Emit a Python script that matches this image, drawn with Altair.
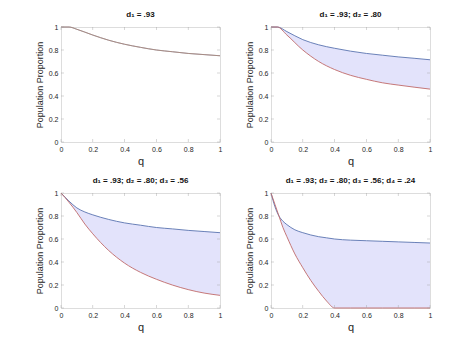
import altair as alt
import pandas as pd

# ---- data ----
TICKS = [0, 0.2, 0.4, 0.6, 0.8, 1]

TITLES = [
    "d₁ = .93",
    "d₁ = .93; d₂ = .80",
    "d₁ = .93; d₂ = .80; d₃ = .56",
    "d₁ = .93; d₂ = .80; d₃ = .56; d₄ = .24",
]

q1 = [0, 0.05, 0.1, 0.2, 0.3, 0.4, 0.5, 0.6, 0.7, 0.8, 0.9, 1.0]
upper1 = [1.0, 1.0, 0.98, 0.93, 0.885, 0.85, 0.823, 0.80, 0.785, 0.77, 0.76, 0.75]
lower1 = [1.0, 1.0, 0.98, 0.93, 0.885, 0.85, 0.823, 0.80, 0.785, 0.77, 0.76, 0.75]

q2 = [0, 0.04, 0.1, 0.2, 0.3, 0.4, 0.5, 0.6, 0.7, 0.8, 0.9, 1.0]
upper2 = [1.0, 1.0, 0.96, 0.89, 0.845, 0.815, 0.79, 0.77, 0.755, 0.74, 0.728, 0.715]
lower2 = [1.0, 1.0, 0.93, 0.80, 0.70, 0.63, 0.58, 0.545, 0.515, 0.495, 0.477, 0.46]

q3 = [0, 0.05, 0.1, 0.15, 0.2, 0.3, 0.4, 0.5, 0.6, 0.7, 0.8, 0.9, 1.0]
upper3 = [1.0, 0.93, 0.87, 0.835, 0.81, 0.77, 0.74, 0.72, 0.70, 0.688, 0.675, 0.665, 0.655]
lower3 = [1.0, 0.92, 0.83, 0.73, 0.645, 0.50, 0.39, 0.31, 0.25, 0.20, 0.16, 0.13, 0.11]

q4 = [0, 0.025, 0.05, 0.075, 0.1, 0.15, 0.2, 0.25, 0.3, 0.35, 0.4, 0.5, 0.6, 0.7, 0.8, 0.9, 1.0]
upper4 = [1.0, 0.88, 0.80, 0.755, 0.725, 0.68, 0.655, 0.635, 0.62, 0.61, 0.60, 0.59, 0.585, 0.58, 0.575, 0.57, 0.565]
lower4 = [1.0, 0.90, 0.80, 0.70, 0.62, 0.47, 0.35, 0.24, 0.145, 0.06, 0.0, 0.0, 0.0, 0.0, 0.0, 0.0, 0.0]

PANELS = [(q1, upper1, lower1), (q2, upper2, lower2), (q3, upper3, lower3), (q4, upper4, lower4)]

W, H = 159, 115
FONT = "Liberation Sans"
FRAME = "#a0a0a0"
TXT = "#262626"
XT = "q"
YT = "Population Proportion"

ticks_df = pd.DataFrame({"t": TICKS})


def panel(i):
    q, up, lo = PANELS[i]
    df = pd.DataFrame({"q": q, "upper": up, "lower": lo})
    xs = alt.Scale(domain=[0, 1], nice=False, zero=False)
    ys = alt.Scale(domain=[0, 1], nice=False, zero=False)
    common = dict(values=TICKS, format="~g", titleFontWeight="normal", titleColor=TXT,
                  labelFontSize=7, labelColor=TXT, labelPadding=3, labelOverlap=False,
                  labelFlush=False, domain=False, ticks=False, grid=False,
                  labelFont=FONT, titleFont=FONT)
    xax = alt.Axis(titleFontSize=11, titlePadding=3, **common)
    yax = alt.Axis(titleFontSize=9, titlePadding=4, **common)

    def X(f):
        return alt.X(f, scale=xs, axis=xax, title=XT)

    def Y(f):
        return alt.Y(f, scale=ys, axis=yax, title=YT)

    base = alt.Chart(df)
    area = base.mark_area(color="#e3e3fb", opacity=1, interpolate="monotone").encode(
        x=X("q:Q"), y=Y("upper:Q"), y2="lower:Q")
    if i == 0:
        up_color, lo_color, lo_op = "#8a7f9a", "#b08a70", 0.7
    else:
        up_color, lo_color, lo_op = "#5a74b0", "#c06a6a", 1.0
    l_up = base.mark_line(color=up_color, strokeWidth=0.9, interpolate="monotone").encode(
        x=X("q:Q"), y=Y("upper:Q"))
    l_lo = base.mark_line(color=lo_color, strokeWidth=0.9, opacity=lo_op, interpolate="monotone").encode(
        x=X("q:Q"), y=Y("lower:Q"))
    tb = alt.Chart(ticks_df)
    tk = dict(size=3, thickness=0.6, color=FRAME)
    t_bot = tb.mark_tick(orient="vertical", yOffset=-1.5, **tk).encode(x=X("t:Q"), y=alt.value(H))
    t_top = tb.mark_tick(orient="vertical", yOffset=1.5, **tk).encode(x=X("t:Q"), y=alt.value(0))
    t_left = tb.mark_tick(orient="horizontal", xOffset=1.5, **tk).encode(y=Y("t:Q"), x=alt.value(0))
    t_right = tb.mark_tick(orient="horizontal", xOffset=-1.5, **tk).encode(y=Y("t:Q"), x=alt.value(W))
    return alt.layer(area, l_up, l_lo, t_bot, t_top, t_left, t_right).properties(
        width=W, height=H,
        title=alt.TitleParams(TITLES[i], fontSize=8, fontWeight="bold", color="#111111",
                              font=FONT, offset=4),
    )


row1 = alt.hconcat(panel(0), panel(1), spacing=21)
row2 = alt.hconcat(panel(2), panel(3), spacing=21)
chart = alt.vconcat(row1, row2, spacing=9).properties(
    padding={"left": 34, "top": 10, "right": 5, "bottom": 5}
).configure_view(stroke=FRAME, strokeWidth=0.8).configure_axis(
    labelOverlap=False, labelFlush=False, labelBound=False
).configure(background="white")

chart.save("out.html", embed_options={"renderer": "svg", "actions": False})
